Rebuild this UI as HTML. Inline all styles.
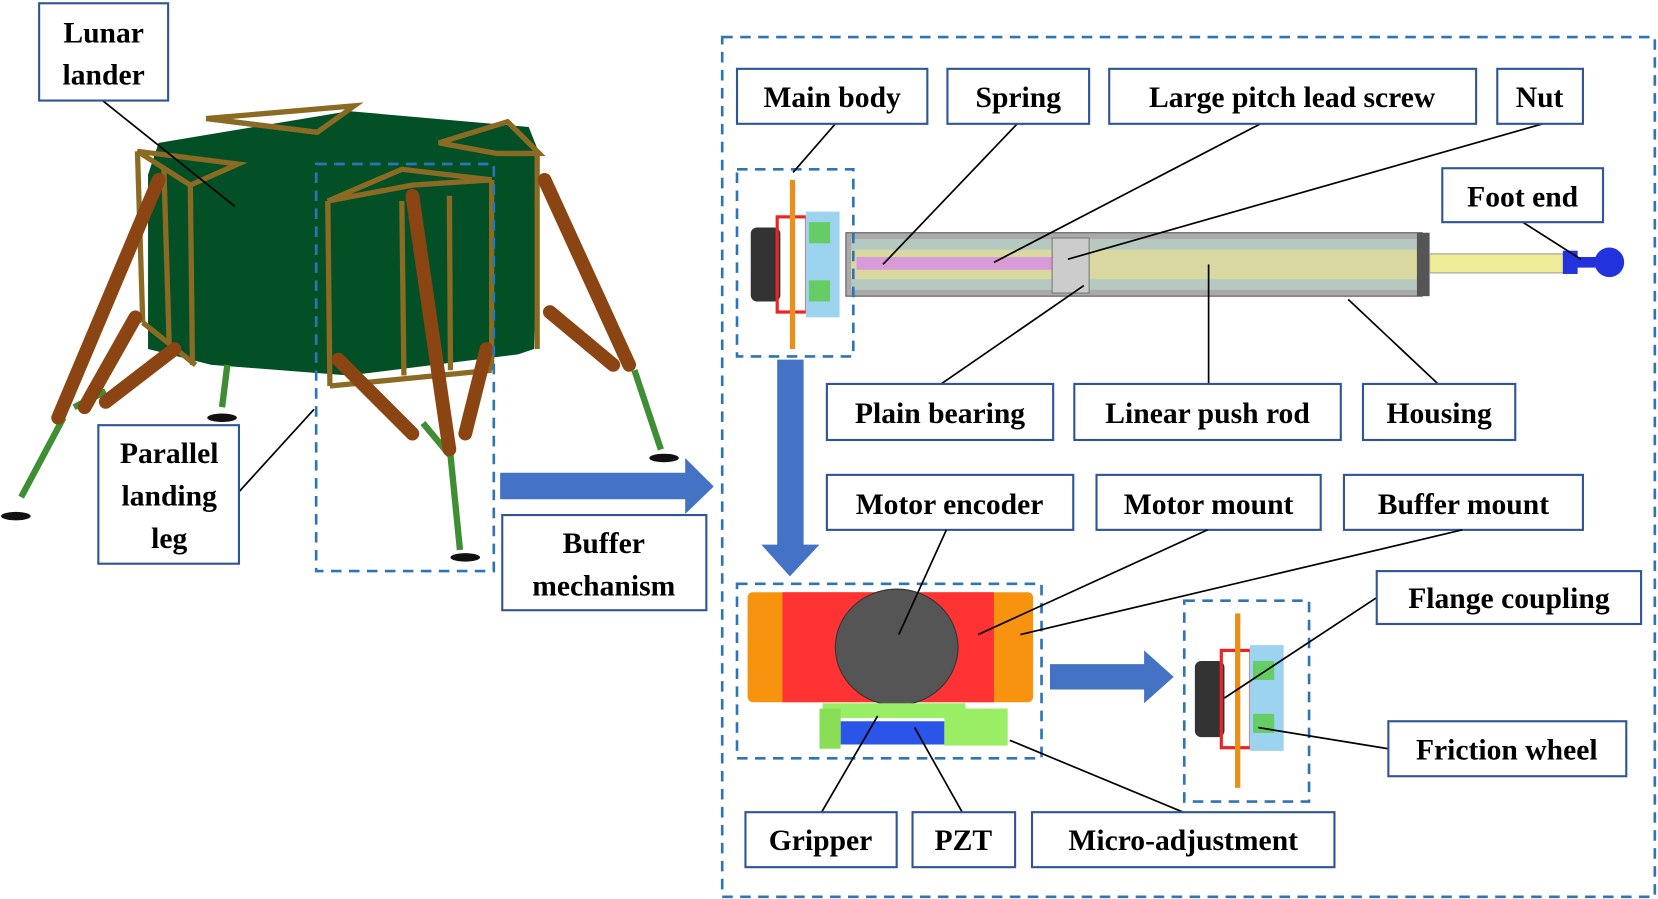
<!DOCTYPE html>
<html><head><meta charset="utf-8"><style>
html,body{margin:0;padding:0;background:#fff;}
svg{display:block;}
text{font-family:"Liberation Serif",serif;font-weight:bold;font-size:28px;fill:#000;}
.b{fill:#fff;stroke:#2f5597;stroke-width:2;}
.d{fill:none;stroke:#2e75b6;stroke-width:2.5;stroke-dasharray:10,7;}
.l{stroke:#000;stroke-width:1.6;fill:none;}
.fr{fill:none;stroke:#8b6b23;stroke-width:5;}
.lg{stroke:#8b4513;stroke-width:13;stroke-linecap:round;}
.gl{stroke:#3e8e33;stroke-width:6;}
</style></head><body>
<svg width="1658" height="899" viewBox="0 0 1568 850" xmlns="http://www.w3.org/2000/svg">
<!-- Lander -->
<polygon points="150,135 330,105 500,120 510,145 505,330 490,335 330,355 200,345 140,330 140,165" fill="#035026"/>
<g class="fr">
<polygon points="195,112 335,100 300,125"/>
<line x1="195" y1="112" x2="300" y2="125"/>
<polygon points="130,143 225,155 180,175"/>
<line x1="130" y1="143" x2="135" y2="305"/><line x1="180" y1="175" x2="182" y2="345"/><line x1="155" y1="160" x2="160" y2="325"/>
<polygon points="310,190 380,160 465,170 390,175"/>
<line x1="310" y1="190" x2="312" y2="365"/><line x1="465" y1="170" x2="465" y2="350"/><line x1="380" y1="190" x2="382" y2="355"/><line x1="425" y1="185" x2="426" y2="350"/>
<line x1="312" y1="365" x2="465" y2="350"/>
<polygon points="415,135 480,115 510,145 470,145"/>
<line x1="508" y1="145" x2="508" y2="330"/>
<line x1="135" y1="305" x2="185" y2="345"/>
</g>
<g class="gl">
<line x1="60" y1="395" x2="20" y2="470"/><line x1="215" y1="345" x2="210" y2="385"/>
<line x1="425" y1="420" x2="435" y2="520"/><line x1="600" y1="350" x2="625" y2="425"/>
<line x1="70" y1="385" x2="100" y2="370"/><line x1="400" y1="400" x2="425" y2="430"/>
</g>
<g class="lg">
<line x1="150" y1="170" x2="55" y2="395"/><line x1="128" y1="300" x2="80" y2="385"/><line x1="165" y1="330" x2="100" y2="380"/>
<line x1="390" y1="185" x2="425" y2="425"/><line x1="320" y1="340" x2="390" y2="410"/><line x1="460" y1="330" x2="440" y2="410"/>
<line x1="515" y1="170" x2="595" y2="345"/><line x1="520" y1="295" x2="580" y2="345"/>
</g>
<g fill="#111"><ellipse cx="15" cy="488" rx="14" ry="4"/><ellipse cx="210" cy="395" rx="14" ry="4"/><ellipse cx="440" cy="527" rx="14" ry="4"/><ellipse cx="628" cy="433" rx="14" ry="4"/></g>
<rect x="299" y="155" width="168" height="385" class="d"/>
<line x1="97" y1="95" x2="222" y2="195" class="l"/>
<line x1="226" y1="465" x2="297" y2="387" class="l"/>
<rect x="37" y="3" width="122" height="92" class="b"/>
<text x="98" y="40" text-anchor="middle">Lunar</text><text x="98" y="80" text-anchor="middle">lander</text>
<rect x="93" y="402" width="133" height="131" class="b"/>
<text x="160" y="438" text-anchor="middle">Parallel</text><text x="160" y="478" text-anchor="middle">landing</text><text x="160" y="518" text-anchor="middle">leg</text>
<polygon points="473,447 648,447 648,433 675,460 648,486 648,472 473,472" fill="#4472c4"/>
<rect x="475" y="487" width="193" height="90" class="b"/>
<text x="571" y="523" text-anchor="middle">Buffer</text><text x="571" y="563" text-anchor="middle">mechanism</text>

<rect x="683" y="35" width="882" height="813" class="d"/>
<!-- rod assembly -->
<rect x="800" y="220" width="545" height="60" fill="#aaa" stroke="#555"/>
<rect x="805" y="226" width="535" height="48" fill="#b5c9c0"/>
<rect x="805" y="236" width="535" height="28" fill="#d8d8a0"/>
<rect x="810" y="243" width="190" height="12" fill="#d89ad8"/>
<rect x="995" y="225" width="35" height="52" fill="#ccc" stroke="#777"/>
<rect x="1340" y="220" width="12" height="60" fill="#555"/>
<rect x="1352" y="240" width="128" height="18" fill="#eeee99" stroke="#999"/>
<rect x="1478" y="237" width="14" height="22" fill="#2233dd"/>
<line x1="1490" y1="248" x2="1510" y2="248" stroke="#2233dd" stroke-width="10"/>
<circle cx="1522" cy="248" r="14" fill="#2233dd"/>
<rect x="710" y="215" width="28" height="70" rx="6" fill="#333"/>
<rect x="735" y="205" width="28" height="90" fill="none" stroke="#e22" stroke-width="3"/>
<rect x="762" y="200" width="32" height="100" fill="#9cd3ee"/>
<rect x="765" y="210" width="20" height="20" fill="#6c6"/><rect x="765" y="265" width="20" height="20" fill="#6c6"/>
<rect x="747" y="170" width="5" height="160" fill="#e8901a"/>
<rect x="697" y="160" width="110" height="177" class="d"/>
<polygon points="735,340 760,340 760,515 775,515 747,545 720,515 735,515" fill="#4472c4"/>
<g class="l">
<line x1="790" y1="117" x2="750" y2="163"/><line x1="962" y1="117" x2="835" y2="250"/>
<line x1="1192" y1="117" x2="940" y2="248"/><line x1="1459" y1="117" x2="1010" y2="245"/>
<line x1="1440" y1="210" x2="1495" y2="245"/><line x1="890" y1="363" x2="1025" y2="270"/>
<line x1="1143" y1="363" x2="1143" y2="250"/><line x1="1360" y1="363" x2="1275" y2="283"/>
</g>
<rect x="697" y="65" width="180" height="52" class="b"/><text x="787" y="101" text-anchor="middle">Main body</text>
<rect x="896" y="65" width="134" height="52" class="b"/><text x="963" y="101" text-anchor="middle">Spring</text>
<rect x="1049" y="65" width="347" height="52" class="b"/><text x="1222" y="101" text-anchor="middle">Large pitch lead screw</text>
<rect x="1416" y="65" width="81" height="52" class="b"/><text x="1456" y="101" text-anchor="middle">Nut</text>
<rect x="1364" y="159" width="152" height="51" class="b"/><text x="1440" y="195" text-anchor="middle">Foot end</text>
<rect x="782" y="363" width="214" height="53" class="b"/><text x="889" y="400" text-anchor="middle">Plain bearing</text>
<rect x="1016" y="363" width="252" height="53" class="b"/><text x="1142" y="400" text-anchor="middle">Linear push rod</text>
<rect x="1289" y="363" width="144" height="53" class="b"/><text x="1361" y="400" text-anchor="middle">Housing</text>
<rect x="782" y="449" width="233" height="52" class="b"/><text x="898" y="486" text-anchor="middle">Motor encoder</text>
<rect x="1037" y="449" width="212" height="52" class="b"/><text x="1143" y="486" text-anchor="middle">Motor mount</text>
<rect x="1271" y="449" width="226" height="52" class="b"/><text x="1384" y="486" text-anchor="middle">Buffer mount</text>
<!-- motor -->
<rect x="707" y="560" width="270" height="104" rx="5" fill="#f7930e"/>
<rect x="740" y="560" width="200" height="104" fill="#f33"/>
<ellipse cx="848" cy="612" rx="58" ry="55" fill="#555" stroke="#333"/>
<rect x="778" y="665" width="135" height="14" fill="#9e6"/>
<rect x="795" y="682" width="100" height="22" fill="#2a55e8"/>
<rect x="775" y="670" width="20" height="38" fill="#8d5"/><rect x="893" y="670" width="60" height="35" fill="#9e6"/>
<rect x="697" y="552" width="288" height="165" class="d"/>
<polygon points="993,628 1082,628 1082,615 1110,640 1082,665 1082,652 993,652" fill="#4472c4"/>
<rect x="1130" y="625" width="28" height="72" rx="6" fill="#333"/>
<rect x="1155" y="615" width="28" height="92" fill="none" stroke="#e22" stroke-width="3"/>
<rect x="1182" y="610" width="32" height="100" fill="#9cd3ee"/>
<rect x="1185" y="625" width="20" height="18" fill="#6c6"/><rect x="1185" y="675" width="20" height="18" fill="#6c6"/>
<rect x="1168" y="580" width="5" height="165" fill="#e8901a"/>
<rect x="1120" y="568" width="118" height="190" class="d"/>
<g class="l">
<line x1="895" y1="501" x2="850" y2="600"/><line x1="1142" y1="501" x2="925" y2="600"/>
<line x1="1383" y1="501" x2="965" y2="600"/><line x1="1302" y1="565" x2="1158" y2="660"/>
<line x1="1313" y1="708" x2="1190" y2="688"/><line x1="777" y1="768" x2="830" y2="677"/>
<line x1="910" y1="768" x2="865" y2="688"/><line x1="1119" y1="768" x2="955" y2="700"/>
</g>
<rect x="1302" y="540" width="250" height="50" class="b"/><text x="1427" y="575" text-anchor="middle">Flange coupling</text>
<rect x="1313" y="682" width="225" height="52" class="b"/><text x="1425" y="718" text-anchor="middle">Friction wheel</text>
<rect x="705" y="768" width="143" height="52" class="b"/><text x="776" y="804" text-anchor="middle">Gripper</text>
<rect x="863" y="768" width="97" height="52" class="b"/><text x="911" y="804" text-anchor="middle">PZT</text>
<rect x="976" y="768" width="286" height="52" class="b"/><text x="1119" y="804" text-anchor="middle">Micro-adjustment</text>
</svg>
</body></html>
